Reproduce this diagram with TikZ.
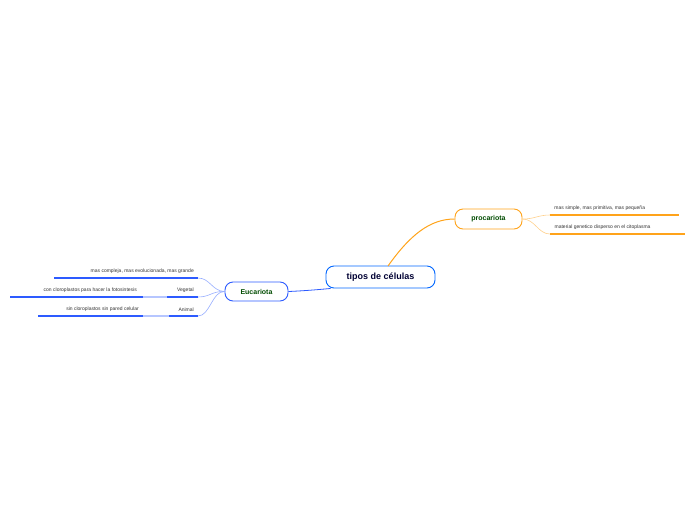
\documentclass[tikz,border=0pt]{standalone}
\usepackage{fontspec}
\setmainfont{Liberation Sans}
\begin{document}
\begin{tikzpicture}[x=1pt,y=-1pt,
  box/.style={rounded corners=8pt,fill=white,line width=0.9pt,font=\bfseries\fontsize{7}{8}\selectfont,text=green!30!black},
  leaf/.style={font=\fontsize{5}{6}\selectfont,text=black!80,inner sep=0pt},
  bl/.style={draw=blue!70!cyan!80!black,line width=1.2pt},
  lbl/.style={draw=blue!30,line width=1.2pt},
  ol/.style={draw=orange!90!yellow,line width=1.2pt}]
\definecolor{ublue}{HTML}{2D5BFF}
\definecolor{uorange}{HTML}{FFA31A}
\useasboundingbox (0,0) rectangle (696,520);
\node[box,draw=blue!60!cyan,minimum width=109pt,minimum height=22pt,text=blue!20!black,font=\bfseries\fontsize{9}{10}\selectfont] (c) at (380.5,277) {tipos de células};
\node[box,draw=uorange,minimum width=67pt,minimum height=20pt] (p) at (488.5,219) {procariota};
\node[box,draw=ublue,minimum width=63pt,minimum height=19pt] (e) at (256.5,291.5) {Eucariota};
\draw[uorange,line width=1pt] (388,266) .. controls (410,235) and (430,219) .. (p.west);
\draw[ublue,line width=0.8pt] (c.south west) ++(5,0) coordinate (cs) .. controls (315,290) and (300,291) .. (e.east);
% procariota leaves
\coordinate (p1a) at (550,215); \coordinate (p1b) at (679,215);
\coordinate (p2a) at (550,234); \coordinate (p2b) at (685,234);
\draw[uorange!50,line width=0.6pt] (p.east) .. controls (535,219) and (538,215) .. (p1a);
\draw[uorange!50,line width=0.6pt] (p.east) .. controls (535,219) and (538,234) .. (p2a);
\draw[uorange,line width=1.2pt] (p1a) -- (p1b) node[leaf,pos=0.03,above=4pt,anchor=south west] {mas simple, mas primitiva, mas pequeña};
\draw[uorange,line width=1.2pt] (p2a) -- (p2b) node[leaf,pos=0.03,above=4pt,anchor=south west] {material genetico disperso en el citoplasma};
% eucariota leaves
\coordinate (e1a) at (198,278); \coordinate (e1b) at (54,278);
\coordinate (e2a) at (198,297); \coordinate (e2b) at (167,297);
\coordinate (e3a) at (198,316); \coordinate (e3b) at (169,316);
\draw[ublue!50,line width=0.6pt] (e.west) .. controls (212,291) and (210,278) .. (e1a);
\draw[ublue!50,line width=0.6pt] (e.west) .. controls (212,291) and (210,297) .. (e2a);
\draw[ublue!50,line width=0.6pt] (e.west) .. controls (212,291) and (210,316) .. (e3a);
\draw[ublue,line width=1.2pt] (e1a) -- (e1b);
\node[leaf,anchor=south east] (t1) at (194,274) {mas compleja, mas evolucionada, mas grande};
\draw[ublue,line width=1.2pt] (e2a) -- (e2b);
\node[leaf,anchor=south east] (t2) at (194,293) {Vegetal};
\coordinate (v1) at (143,297); \coordinate (v2) at (10,297);
\draw[ublue!35,line width=1.2pt] (e2b) -- (v1);
\draw[ublue,line width=1.2pt] (v1) -- (v2);
\node[leaf,anchor=south east] (t3) at (137,293) {con cloroplastos para hacer la fotosintesis};
\draw[ublue,line width=1.2pt] (e3a) -- (e3b);
\node[leaf,anchor=south east] (t4) at (194,312) {Animal};
\coordinate (a1) at (143,316); \coordinate (a2) at (38,316);
\draw[ublue!35,line width=1.2pt] (e3b) -- (a1);
\draw[ublue,line width=1.2pt] (a1) -- (a2);
\node[leaf,anchor=south east] (t5) at (139,312) {sin cloroplastos sin pared celular};
\end{tikzpicture}
\end{document}
